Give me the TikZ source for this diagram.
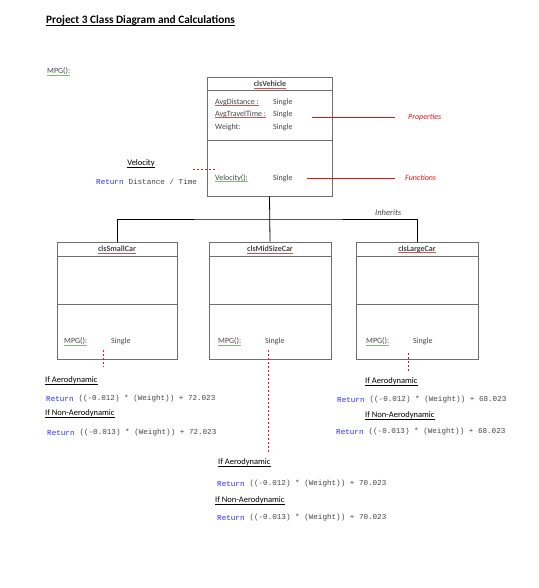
\documentclass[tikz,border=0pt]{standalone}
\usepackage{fontspec}
\setmainfont{Carlito}
\setmonofont{Liberation Mono}
\definecolor{codeblue}{RGB}{40,40,255}
\definecolor{txtgray}{RGB}{70,70,70}
\definecolor{linegray}{RGB}{110,110,110}
\definecolor{spellred}{RGB}{220,80,80}
\definecolor{gramgreen}{RGB}{120,190,120}
\definecolor{notered}{RGB}{230,20,20}
\begin{document}
\begin{tikzpicture}[x=1pt,y=-1pt,
  box/.style={draw=linegray, line width=0.8pt, inner sep=0pt},
  lbl/.style={anchor=west, inner sep=0pt, font=\fontsize{8}{9}\selectfont, text=txtgray},
  title/.style={font=\fontsize{8}{9}\selectfont\bfseries, text=txtgray, inner sep=0pt},
  code/.style={anchor=west, inner sep=0pt, font=\ttfamily\fontsize{7.6}{8}\selectfont, text=txtgray},
  kw/.style={code, text=codeblue},
  cond/.style={anchor=west, inner sep=0pt, font=\fontsize{8.5}{9}\selectfont, text=black},
  redline/.style={color=notered, line width=1.1pt},
  reddash/.style={color=notered, line width=1.1pt, dash pattern=on 2pt off 2pt},
  note/.style={anchor=west, inner sep=0pt, font=\itshape\fontsize{8}{9}\selectfont, text=notered},
  conn/.style={color=black, line width=0.8pt},
  divider/.style={color=linegray, line width=0.8pt},
  spell/.style={color=spellred, line width=0.8pt},
  gram/.style={color=gramgreen, line width=0.8pt},
  ul/.style={color=black, line width=0.5pt}]
\useasboundingbox (0,0) rectangle (538,588);
\fill[white] (0,0) rectangle (538,588);

% ---------- graphics ----------
% clsVehicle
\node[box, minimum width=125pt, minimum height=119pt] (veh) at (269.5,136.5) {};
\draw[divider] (207,90) -- (332,90);
\draw[divider] (207,140) -- (332,140);

% child boxes
\node[box, minimum width=120pt, minimum height=117pt] (small) at (117,300.5) {};
\node[box, minimum width=122pt, minimum height=117pt] (mid) at (270,300.5) {};
\node[box, minimum width=122pt, minimum height=117pt] (large) at (417,300.5) {};
\foreach \a/\b in {57/177,209/331,356/478}{
  \draw[divider] (\a,256) -- (\b,256);
  \draw[divider] (\a,304) -- (\b,304);
}

% inheritance connectors
\coordinate (j) at (269.5,219);
\draw[conn] (veh.south) -- (mid.north);
\draw[conn] (small.north) |- (j) -| (large.north);

% red notes
\coordinate (ps) at (312,117.5);
\coordinate (pe) at (395,117.5);
\draw[redline] (ps) -- (pe);
\coordinate (fs) at (307,178.5);
\coordinate (fe) at (395,178.5);
\draw[redline] (fs) -- (fe);
\coordinate (vd1) at (193,169.5);
\coordinate (vd2) at (217,169.5);
\draw[reddash] (vd1) -- (vd2);

% dashed drops
\coordinate (sd1) at (103.5,350); \coordinate (sd2) at (103.5,367);
\draw[reddash] (sd1) -- (sd2);
\coordinate (md1a) at (268.5,350); \coordinate (md2a) at (268.5,453);
\draw[reddash] (md1a) -- (md2a);
\coordinate (ld1) at (408.5,353); \coordinate (ld2) at (408.5,372);
\draw[reddash] (ld1) -- (ld2);

% ---------- text ----------
\node[anchor=west, inner sep=0pt, font=\bfseries\fontsize{11.3}{13}\selectfont] (ttl) at (46,20) {Project 3 Class Diagram and Calculations};
\node[lbl] (mpgtop) at (47,71) {MPG():};

\node[title] (vehT) at (270,84) {clsVehicle};
\node[lbl] (p1) at (215,102) {AvgDistance :};
\node[lbl] (p1t) at (273,102) {Single};
\node[lbl] (p2) at (215,114) {AvgTravelTime :};
\node[lbl] (p2t) at (273,114) {Single};
\node[lbl] (p3) at (215,127) {Weight:};
\node[lbl] (p3t) at (273,127) {Single};
\node[lbl] (f1) at (215,178) {Velocity():};
\node[lbl] (f1t) at (273,178) {Single};
\node[note] (prop) at (408,117) {Properties};
\node[note] (func) at (405,178) {Functions};

\node[cond, anchor=center] (velh) at (141,163) {Velocity};
\node[kw] (velk) at (96,182) {Return};
\node[code] (velc) at ([xshift=4.6pt]velk.east) {Distance / Time};

\node[title] (smallT) at (117,249) {clsSmallCar};
\node[title] (midT) at (270,249) {clsMidSizeCar};
\node[title] (largeT) at (417,249) {clsLargeCar};
\node[lbl] (sm1) at (64,341) {MPG():};
\node[lbl] (sm1t) at (111,341) {Single};
\node[lbl] (md1) at (218,341) {MPG():};
\node[lbl] (md1t) at (265,341) {Single};
\node[lbl] (lg1) at (366,341) {MPG():};
\node[lbl] (lg1t) at (413,341) {Single};
\node[anchor=west, inner sep=0pt, font=\itshape\fontsize{8.5}{9}\selectfont, text=txtgray] (inh) at (375,213) {Inherits};

% formulas
\node[cond] (sa) at (45,380) {If Aerodynamic};
\node[kw] (sak) at (46,399) {Return};
\node[code] (sac) at ([xshift=4.6pt]sak.east) {((-0.012) * (Weight)) + 72.023};
\node[cond] (sn) at (45,413) {If Non-Aerodynamic};
\node[kw] (snk) at (47,433) {Return};
\node[code] (snc) at ([xshift=4.6pt]snk.east) {((-0.013) * (Weight)) + 72.023};

\node[cond] (la) at (365,381) {If Aerodynamic};
\node[kw] (lak) at (337,400) {Return};
\node[code] (lac) at ([xshift=4.6pt]lak.east) {((-0.012) * (Weight)) + 68.023};
\node[cond] (ln) at (365,415) {If Non-Aerodynamic};
\node[kw] (lnk) at (336,432) {Return};
\node[code] (lnc) at ([xshift=4.6pt]lnk.east) {((-0.013) * (Weight)) + 68.023};

\node[cond] (ma) at (218,462) {If Aerodynamic};
\node[kw] (mak) at (217,484) {Return};
\node[code] (mac) at ([xshift=4.6pt]mak.east) {((-0.012) * (Weight)) + 70.023};
\node[cond] (mn) at (215,500) {If Non-Aerodynamic};
\node[kw] (mnk) at (217,518) {Return};
\node[code] (mnc) at ([xshift=4.6pt]mnk.east) {((-0.013) * (Weight)) + 70.023};

% ---------- underlines ----------
\draw[ul, line width=0.7pt] ([yshift=-2.4pt]ttl.base west) -- ([yshift=-2.4pt]ttl.base east);
\foreach \n in {velh, sa, sn, la, ln, ma, mn}
  \draw[ul] ([yshift=-1.6pt]\n.base west) -- ([yshift=-1.6pt]\n.base east);
\foreach \n in {vehT, p1, p2, smallT, midT, largeT}
  \draw[spell] ([yshift=-1.6pt]\n.base west) -- ([yshift=-1.6pt]\n.base east);
\foreach \n in {mpgtop, f1, sm1, md1, lg1}
  \draw[gram] ([yshift=-1.6pt]\n.base west) -- ([yshift=-1.6pt]\n.base east);
\end{tikzpicture}
\end{document}
